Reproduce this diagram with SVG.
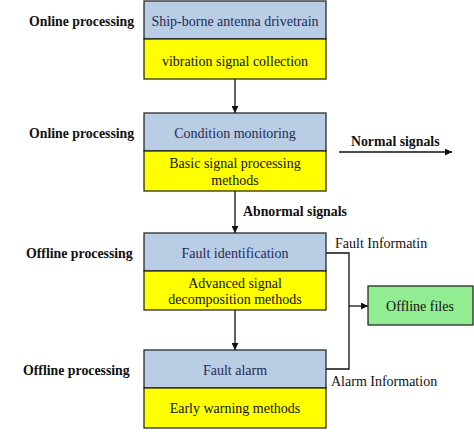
<svg xmlns="http://www.w3.org/2000/svg" width="474" height="444" viewBox="0 0 474 444">
<style>
.blue{fill:#b9cde5;stroke:#1a1a1a;stroke-width:1.2}
.yel{fill:#ffff00;stroke:#1a1a1a;stroke-width:1.2}
.grn{fill:#92ec92;stroke:#1a1a1a;stroke-width:1.2}
.t{font-family:"Liberation Serif","Times New Roman",serif;font-size:14px;text-anchor:middle}
.tb{fill:#1f2a56}
.tk{fill:#111}
.lb{font-family:"Liberation Serif","Times New Roman",serif;font-size:13.8px;font-weight:bold;fill:#111}
.ln{font-family:"Liberation Serif","Times New Roman",serif;font-size:14px;fill:#111}
.c{fill:none;stroke:#111;stroke-width:1.3}
</style>
<defs>
<marker id="ah" viewBox="0 0 10 10" refX="10" refY="5" markerWidth="7" markerHeight="7" markerUnits="userSpaceOnUse" orient="auto">
<path d="M0,0 L10,5 L0,10 z" fill="#111"/>
</marker>
</defs>
<rect width="474" height="444" fill="#fff"/>
<g id="connectors">
<line class="c" x1="235" y1="79" x2="235" y2="113" marker-end="url(#ah)"/>
<line class="c" x1="235" y1="191" x2="235" y2="233" marker-end="url(#ah)"/>
<line class="c" x1="235" y1="310" x2="235" y2="350" marker-end="url(#ah)"/>
<line class="c" x1="339" y1="152" x2="452" y2="152" marker-end="url(#ah)"/>
<polyline class="c" points="326,253 349,253 349,369 326,369"/>
<line class="c" x1="349" y1="306" x2="368" y2="306" marker-end="url(#ah)"/>
</g>
<g id="n1">
<rect class="blue" x="144" y="1" width="182" height="38"/>
<rect class="yel" x="144" y="39" width="182" height="40"/>
<text class="t tb" x="235" y="26">Ship-borne antenna drivetrain</text>
<text class="t tk" x="235" y="66">vibration signal collection</text>
</g>
<g id="n2">
<rect class="blue" x="144" y="113" width="182" height="38"/>
<rect class="yel" x="144" y="151" width="182" height="40"/>
<text class="t tb" x="235" y="138">Condition monitoring</text>
<text class="t tk" x="235" y="168">Basic signal processing</text>
<text class="t tk" x="235" y="185">methods</text>
</g>
<g id="n3">
<rect class="blue" x="144" y="233" width="182" height="38"/>
<rect class="yel" x="144" y="271" width="182" height="39"/>
<text class="t tb" x="235" y="258">Fault identification</text>
<text class="t tk" x="235" y="288">Advanced signal</text>
<text class="t tk" x="235" y="304">decomposition methods</text>
</g>
<g id="n4">
<rect class="blue" x="144" y="350" width="182" height="38"/>
<rect class="yel" x="144" y="388" width="182" height="40"/>
<text class="t tb" x="235" y="375">Fault alarm</text>
<text class="t tk" x="235" y="413">Early warning methods</text>
</g>
<g id="n5">
<rect class="grn" x="368" y="286" width="105" height="39"/>
<text class="t tk" x="420" y="311">Offline files</text>
</g>
<g id="labels">
<text class="lb" x="29" y="26">Online processing</text>
<text class="lb" x="29" y="138">Online processing</text>
<text class="lb" x="26" y="258">Offline processing</text>
<text class="lb" x="23" y="375">Offline processing</text>
<text class="lb" x="351" y="146">Normal signals</text>
<text class="lb" x="243" y="216">Abnormal signals</text>
<text class="ln" x="335" y="248">Fault Informatin</text>
<text class="ln" x="331" y="386">Alarm Information</text>
</g>
</svg>
